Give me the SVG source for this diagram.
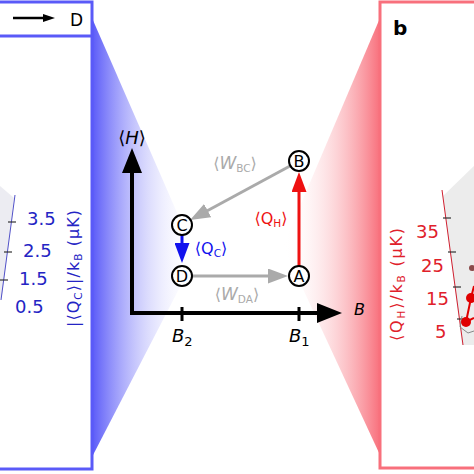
<svg xmlns="http://www.w3.org/2000/svg" width="474" height="474" viewBox="0 0 474 474">
<style>
text{font-family:"DejaVu Sans","Liberation Sans",sans-serif}
.node circle{fill:#fff;stroke:#000;stroke-width:2}
.node text{font-size:16px;text-anchor:middle;fill:#000}
.ax{stroke:#000;stroke-width:4;fill:none}
.tick{stroke:#000;stroke-width:3}
.gray{stroke:#aaaaaa;stroke-width:3;fill:none}
.lbl{font-size:16px;text-anchor:middle}
.sub{font-size:10.5px}
.it{font-style:italic}
</style>
<defs>
<linearGradient id="gb" gradientUnits="userSpaceOnUse" x1="92" y1="0" x2="196" y2="0">
<stop offset="0" stop-color="#5a5af8"/><stop offset="1" stop-color="#ffffff" stop-opacity="0"/>
</linearGradient>
<linearGradient id="gr" gradientUnits="userSpaceOnUse" x1="380" y1="0" x2="283" y2="0">
<stop offset="0" stop-color="#f8707c"/><stop offset="1" stop-color="#ffffff" stop-opacity="0"/>
</linearGradient>
<marker id="axh" markerUnits="userSpaceOnUse" viewBox="0 0 25 20" markerWidth="25" markerHeight="20" refX="3" refY="10" orient="auto"><path d="M0,0 L25,10 L0,20 Z" fill="#000"/></marker>
<marker id="hg" markerUnits="userSpaceOnUse" viewBox="0 0 20 15" markerWidth="20" markerHeight="15" refX="3" refY="7.5" orient="auto"><path d="M0,0 L20,7.5 L0,15 Z" fill="#aaaaaa"/></marker>
<marker id="hr" markerUnits="userSpaceOnUse" viewBox="0 0 20 15" markerWidth="20" markerHeight="15" refX="3" refY="7.5" orient="auto"><path d="M0,0 L20,7.5 L0,15 Z" fill="#ee1111"/></marker>
<marker id="hb" markerUnits="userSpaceOnUse" viewBox="0 0 20 15" markerWidth="20" markerHeight="15" refX="3" refY="7.5" orient="auto"><path d="M0,0 L20,7.5 L0,15 Z" fill="#1111ee"/></marker>
<marker id="hk" markerUnits="userSpaceOnUse" viewBox="0 0 12 8" markerWidth="12" markerHeight="8" refX="2" refY="4" orient="auto"><path d="M0,0 L12,4 L0,8 Z" fill="#000"/></marker>
</defs>

<!-- zoom wedges -->
<polygon points="92,18 196,256 92,457" fill="url(#gb)"/>
<polygon points="380,18 283,246 380,455" fill="url(#gr)"/>

<!-- panel a (left) -->
<g id="panel-a">
<rect x="-5" y="2" width="97" height="467" fill="#fff" stroke="#5a5af8" stroke-width="3"/>
<line x1="-5" y1="36" x2="92" y2="36" stroke="#5a5af8" stroke-width="3"/>
<line x1="13" y1="18" x2="45" y2="18" stroke="#000" stroke-width="2.5" marker-end="url(#hk)"/>
<text x="70" y="26" font-size="17" fill="#000">D</text>
<polygon points="0,186 14,198 2,296 0,300" fill="#ececf2"/>
<line x1="15" y1="195" x2="1" y2="300" stroke="#5050c8" stroke-width="1"/>
<g stroke="#333" stroke-width="1.2">
<line x1="8" y1="222" x2="16" y2="222"/><line x1="4" y1="252" x2="12" y2="252"/><line x1="0" y1="280" x2="8" y2="280"/>
</g>
<g fill="#2424c4" font-size="18">
<text x="27" y="225">3.5</text><text x="23" y="257">2.5</text><text x="19" y="285">1.5</text><text x="15" y="313">0.5</text>
</g>
<text transform="translate(79,327) rotate(-90)" font-size="16" fill="#2424c4" textLength="117" lengthAdjust="spacing">|⟨Q<tspan class="sub" dy="3">C</tspan><tspan dy="-3">⟩|/k</tspan><tspan class="sub" dy="3">B</tspan><tspan dy="-3"> (μK)</tspan></text>
</g>

<!-- panel b (right) -->
<g id="panel-b">
<rect x="380" y="2" width="100" height="466" fill="#fff" stroke="#f8707c" stroke-width="3"/>
<text x="393" y="35" font-size="20" font-weight="bold" fill="#000">b</text>
<polygon points="443,196 474,166 474,345 462,345" fill="#ececec"/>
<line x1="442" y1="190" x2="463" y2="345" stroke="#d02030" stroke-width="1"/>
<g stroke="#333" stroke-width="1.2">
<line x1="443" y1="218" x2="451" y2="218"/><line x1="448" y1="252" x2="456" y2="252"/><line x1="453" y1="287" x2="461" y2="287"/><line x1="457" y1="319" x2="465" y2="319"/>
</g>
<g fill="#e0202a" font-size="18">
<text x="416" y="238">35</text><text x="421" y="272">25</text><text x="426" y="305">15</text><text x="435" y="338">5</text>
</g>
<text transform="translate(402,341) rotate(-90)" font-size="16" fill="#e0202a" textLength="113" lengthAdjust="spacing">⟨Q<tspan class="sub" dy="3">H</tspan><tspan dy="-3">⟩/k</tspan><tspan class="sub" dy="3">B</tspan><tspan dy="-3"> (μK)</tspan></text>
<polyline points="462,316 460,327 468,333 474,331" fill="none" stroke="#888" stroke-width="1"/>
<polyline points="474,286 471,298 466,322 474,318" fill="none" stroke="#e00000" stroke-width="2"/>
<circle cx="472" cy="268" r="3" fill="#8b4a4a"/>
<circle cx="471" cy="298" r="5" fill="#e00000"/>
<circle cx="466" cy="322" r="5" fill="#e00000"/>
</g>

<!-- axes -->
<g id="axes">
<line class="ax" x1="132" y1="315" x2="132" y2="170" marker-end="url(#axh)"/>
<line class="ax" x1="130" y1="313" x2="320" y2="313" marker-end="url(#axh)"/>
<line class="tick" x1="182" y1="307" x2="182" y2="321"/>
<line class="tick" x1="299" y1="307" x2="299" y2="321"/>
<text x="132" y="144" font-size="18" text-anchor="middle">⟨<tspan class="it">H</tspan>⟩</text>
<text x="354" y="315" font-size="16" class="it">B</text>
<text x="172" y="342" font-size="18"><tspan class="it">B</tspan><tspan font-size="13" dy="4">2</tspan></text>
<text x="289" y="342" font-size="18"><tspan class="it">B</tspan><tspan font-size="13" dy="4">1</tspan></text>
</g>

<!-- connectors -->
<g id="connectors">
<line class="gray" x1="290" y1="166" x2="205" y2="212" marker-end="url(#hg)"/>
<line class="gray" x1="192" y1="276" x2="271" y2="276" marker-end="url(#hg)"/>
<line x1="299" y1="266" x2="299" y2="189" stroke="#ee1111" stroke-width="3" marker-end="url(#hr)"/>
<line x1="182" y1="235" x2="182" y2="246" stroke="#1111ee" stroke-width="3" marker-end="url(#hb)"/>
<text class="lbl" x="235" y="169" fill="#aaaaaa">⟨<tspan class="it" font-size="17">W</tspan><tspan class="sub" dy="3">BC</tspan><tspan dy="-3">⟩</tspan></text>
<text class="lbl" x="271" y="224" fill="#ee1111">⟨Q<tspan class="sub" dy="3">H</tspan><tspan dy="-3">⟩</tspan></text>
<text class="lbl" x="211" y="254" fill="#1111ee">⟨Q<tspan class="sub" dy="3">C</tspan><tspan dy="-3">⟩</tspan></text>
<text class="lbl" x="237" y="300" fill="#aaaaaa">⟨<tspan class="it" font-size="17">W</tspan><tspan class="sub" dy="3">DA</tspan><tspan dy="-3">⟩</tspan></text>
</g>

<!-- nodes -->
<g id="node-B" class="node"><circle cx="299" cy="161" r="10"/><text x="299" y="167">B</text></g>
<g id="node-C" class="node"><circle cx="182" cy="225" r="10"/><text x="182" y="231">C</text></g>
<g id="node-D" class="node"><circle cx="182" cy="276" r="10"/><text x="182" y="282">D</text></g>
<g id="node-A" class="node"><circle cx="299" cy="276" r="10"/><text x="299" y="282">A</text></g>
</svg>
